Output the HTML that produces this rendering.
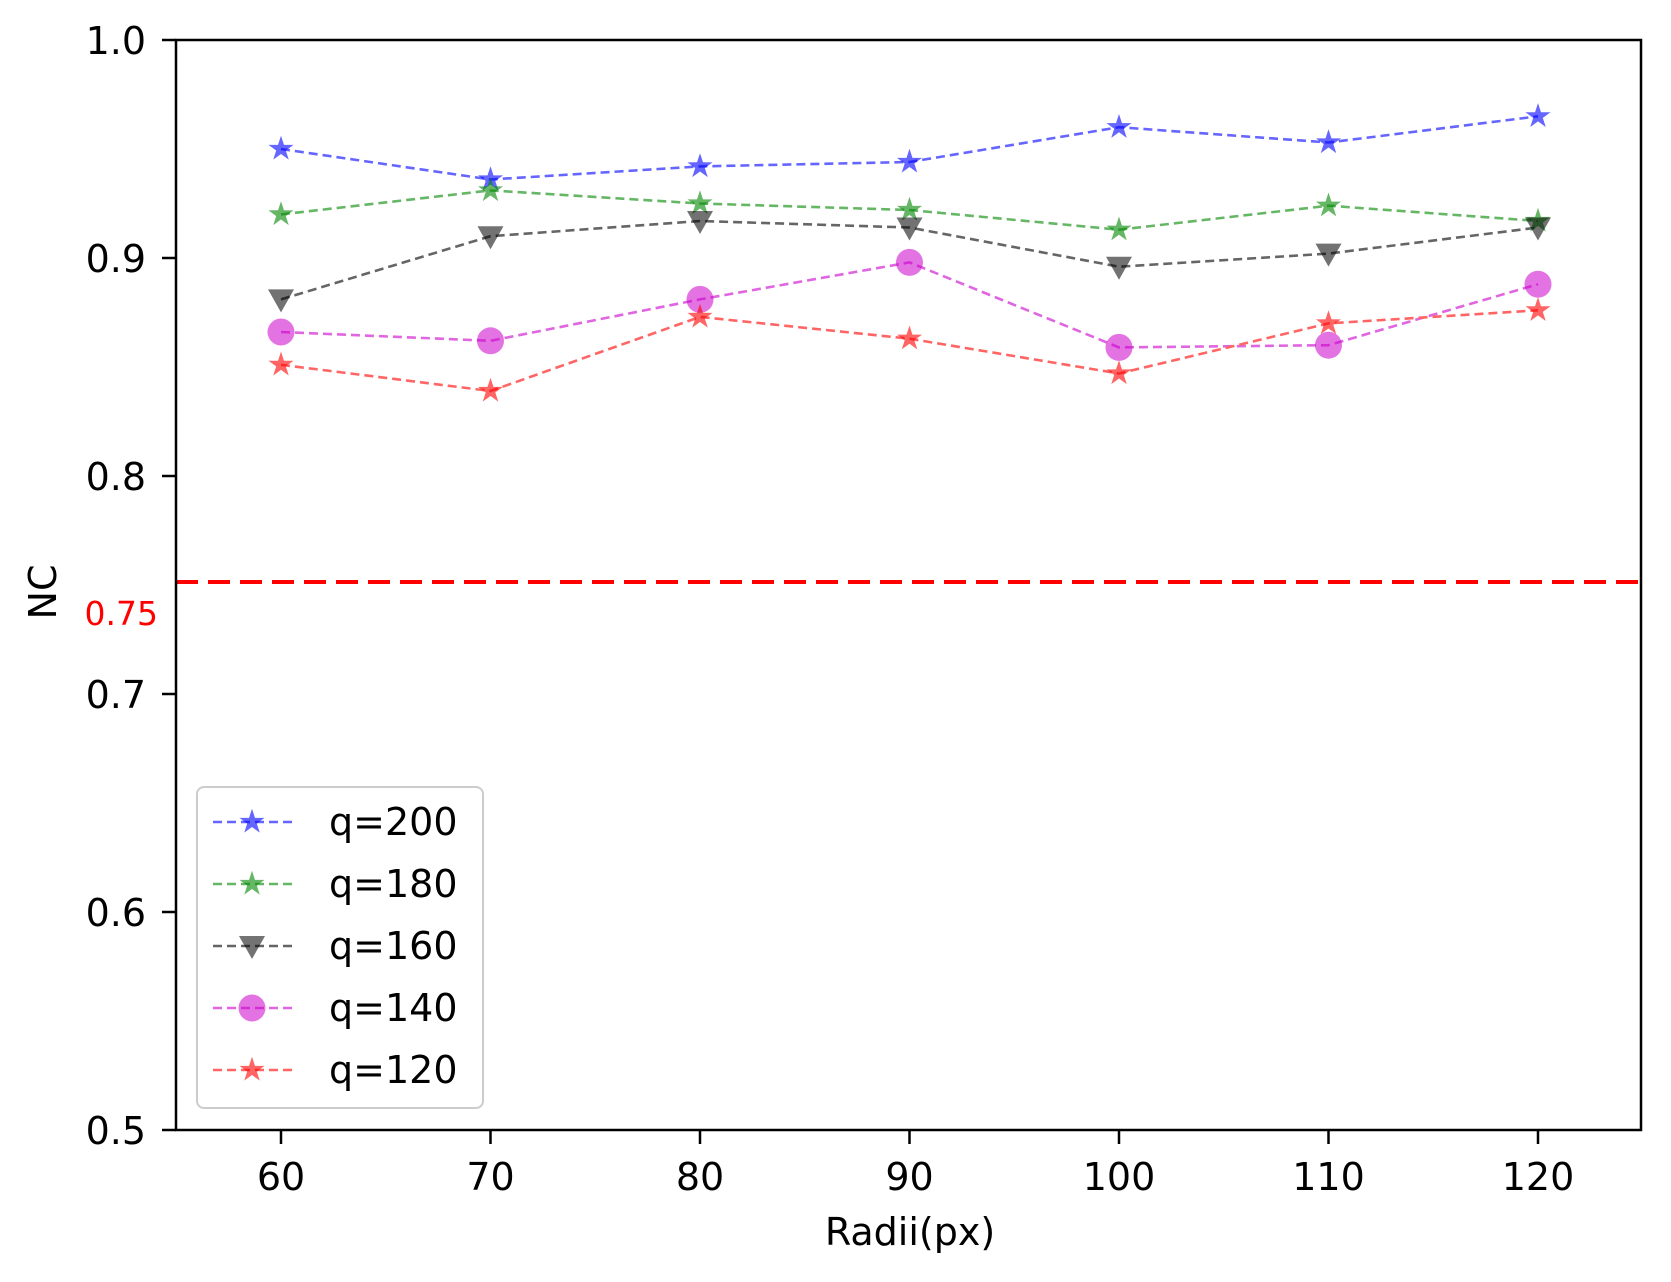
<!DOCTYPE html>
<html><head><style>body{margin:0;background:#fff}svg{display:block}</style></head><body>
<svg width="1671" height="1282" xmlns="http://www.w3.org/2000/svg" font-family="'DejaVu Sans','Liberation Sans',sans-serif">
<defs>
<path id="st" transform="scale(1.1)" d="M0,-12L2.7,-3.72L11.41,-3.71L4.37,1.42L7.05,9.71L0,4.6L-7.05,9.71L-4.37,1.42L-11.41,-3.71L-2.7,-3.72Z"/>
<path id="tr" d="M-13,-10L13,-10L0,13Z"/>
</defs>
<rect width="1671" height="1282" fill="#fff"/>
<line x1="176" y1="582" x2="1641" y2="582" stroke="#f00" stroke-width="4" stroke-dasharray="22,10"/>
<g fill="none" stroke-width="2.6" stroke-dasharray="9,5" opacity="0.6">
<polyline stroke="#00f" points="281,149 490.5,179.5 700,166.4 909.5,162 1119,127.2 1328.5,142.5 1538,116.3"/>
<polyline stroke="#080" points="281,214.4 490.5,190.4 700,203.5 909.5,210 1119,229.7 1328.5,205.7 1538,221"/>
<polyline stroke="#000" points="281,299.4 490.5,236.2 700,221 909.5,227.5 1119,266.7 1328.5,253.6 1538,227.5"/>
<polyline stroke="#c0c" points="281,332 490.5,340.8 700,299.4 909.5,262.4 1119,347.4 1328.5,345.2 1538,284.2"/>
<polyline stroke="#f00" points="281,364.8 490.5,391 700,316.9 909.5,338.7 1119,373.5 1328.5,323.4 1538,310.3"/>
</g>
<g fill="#00f" opacity="0.6"><use href="#st" x="281" y="149"/><use href="#st" x="490.5" y="179.5"/><use href="#st" x="700" y="166.4"/><use href="#st" x="909.5" y="162"/><use href="#st" x="1119" y="127.2"/><use href="#st" x="1328.5" y="142.5"/><use href="#st" x="1538" y="116.3"/></g>
<g fill="#080" opacity="0.6"><use href="#st" x="281" y="214.4"/><use href="#st" x="490.5" y="190.4"/><use href="#st" x="700" y="203.5"/><use href="#st" x="909.5" y="210"/><use href="#st" x="1119" y="229.7"/><use href="#st" x="1328.5" y="205.7"/><use href="#st" x="1538" y="221"/></g>
<g fill="#000" opacity="0.55"><use href="#tr" x="281" y="299.4"/><use href="#tr" x="490.5" y="236.2"/><use href="#tr" x="700" y="221"/><use href="#tr" x="909.5" y="227.5"/><use href="#tr" x="1119" y="266.7"/><use href="#tr" x="1328.5" y="253.6"/><use href="#tr" x="1538" y="227.5"/></g>
<g fill="#c0c" opacity="0.55"><circle cx="281" cy="332" r="13.5"/><circle cx="490.5" cy="340.8" r="13.5"/><circle cx="700" cy="299.4" r="13.5"/><circle cx="909.5" cy="262.4" r="13.5"/><circle cx="1119" cy="347.4" r="13.5"/><circle cx="1328.5" cy="345.2" r="13.5"/><circle cx="1538" cy="284.2" r="13.5"/></g>
<g fill="#f00" opacity="0.6"><use href="#st" x="281" y="364.8"/><use href="#st" x="490.5" y="391"/><use href="#st" x="700" y="316.9"/><use href="#st" x="909.5" y="338.7"/><use href="#st" x="1119" y="373.5"/><use href="#st" x="1328.5" y="323.4"/><use href="#st" x="1538" y="310.3"/></g>
<rect x="176" y="40" width="1465" height="1090" fill="none" stroke="#000" stroke-width="2.5"/>
<g stroke="#000" stroke-width="2.5">
<line x1="162" y1="40" x2="176" y2="40"/><line x1="162" y1="258" x2="176" y2="258"/><line x1="162" y1="476" x2="176" y2="476"/><line x1="162" y1="694" x2="176" y2="694"/><line x1="162" y1="912" x2="176" y2="912"/><line x1="162" y1="1130" x2="176" y2="1130"/>
<line x1="281" y1="1130" x2="281" y2="1144"/><line x1="490.5" y1="1130" x2="490.5" y2="1144"/><line x1="700" y1="1130" x2="700" y2="1144"/><line x1="909.5" y1="1130" x2="909.5" y2="1144"/><line x1="1119" y1="1130" x2="1119" y2="1144"/><line x1="1328.5" y1="1130" x2="1328.5" y2="1144"/><line x1="1538" y1="1130" x2="1538" y2="1144"/>
</g>
<g font-size="38" text-anchor="end" fill="#000">
<text x="146" y="54">1.0</text><text x="146" y="272">0.9</text><text x="146" y="490">0.8</text><text x="146" y="708">0.7</text><text x="146" y="926">0.6</text><text x="146" y="1144">0.5</text>
</g>
<text x="158" y="625" font-size="33" text-anchor="end" fill="#f00">0.75</text>
<g font-size="38" text-anchor="middle" fill="#000">
<text x="281" y="1190">60</text><text x="490.5" y="1190">70</text><text x="700" y="1190">80</text><text x="909.5" y="1190">90</text><text x="1119" y="1190">100</text><text x="1328.5" y="1190">110</text><text x="1538" y="1190">120</text>
<text x="910" y="1245">Radii(px)</text>
<text transform="translate(56,592) rotate(-90)">NC</text>
</g>
<rect x="197" y="787" width="286" height="321" rx="7" fill="#fff" stroke="#ccc" stroke-width="2"/>
<g stroke-width="2.6" stroke-dasharray="9,5" opacity="0.6">
<line x1="213" y1="822" x2="295" y2="822" stroke="#00f"/><line x1="213" y1="884" x2="295" y2="884" stroke="#080"/><line x1="213" y1="946" x2="295" y2="946" stroke="#000"/><line x1="213" y1="1008" x2="295" y2="1008" stroke="#c0c"/><line x1="213" y1="1070" x2="295" y2="1070" stroke="#f00"/>
</g>
<use href="#st" x="252" y="822" fill="#00f" opacity="0.6"/>
<use href="#st" x="252" y="884" fill="#080" opacity="0.6"/>
<use href="#tr" x="252" y="946" fill="#000" opacity="0.55"/>
<circle cx="252" cy="1008" r="13.5" fill="#c0c" opacity="0.55"/>
<use href="#st" x="252" y="1070" fill="#f00" opacity="0.6"/>
<g font-size="38" fill="#000">
<text x="329" y="835">q=200</text><text x="329" y="897">q=180</text><text x="329" y="959">q=160</text><text x="329" y="1021">q=140</text><text x="329" y="1083">q=120</text>
</g>
</svg>
</body></html>
